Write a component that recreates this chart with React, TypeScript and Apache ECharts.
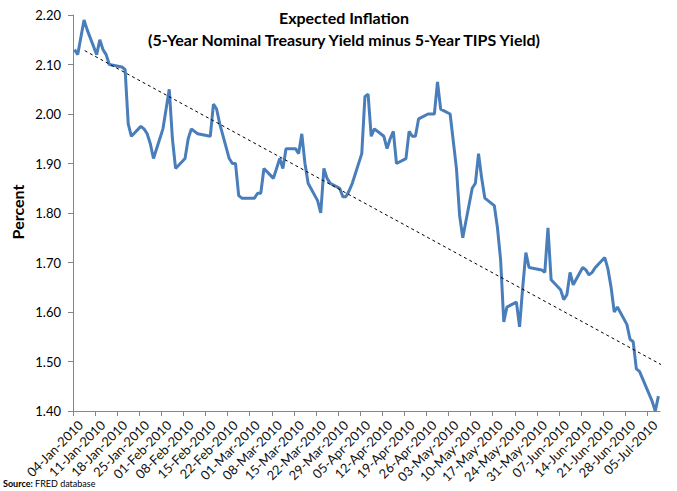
import React, { useEffect, useRef } from "react";
import * as echarts from "echarts";

const DATES = [
  "2010-01-04", "2010-01-05", "2010-01-06", "2010-01-07", "2010-01-08",
  "2010-01-11", "2010-01-12", "2010-01-13", "2010-01-14", "2010-01-15",
  "2010-01-19", "2010-01-20", "2010-01-21", "2010-01-22",
  "2010-01-25", "2010-01-26", "2010-01-27", "2010-01-28", "2010-01-29",
  "2010-02-01", "2010-02-02", "2010-02-03", "2010-02-04", "2010-02-05",
  "2010-02-08", "2010-02-09", "2010-02-10", "2010-02-11", "2010-02-12",
  "2010-02-16", "2010-02-17", "2010-02-18", "2010-02-19",
  "2010-02-22", "2010-02-23", "2010-02-24", "2010-02-25", "2010-02-26",
  "2010-03-01", "2010-03-02", "2010-03-03", "2010-03-04", "2010-03-05",
  "2010-03-08", "2010-03-09", "2010-03-10", "2010-03-11", "2010-03-12",
  "2010-03-15", "2010-03-16", "2010-03-17", "2010-03-18", "2010-03-19",
  "2010-03-22", "2010-03-23", "2010-03-24", "2010-03-25", "2010-03-26",
  "2010-03-29", "2010-03-30", "2010-03-31", "2010-04-01", "2010-04-02",
  "2010-04-05", "2010-04-06", "2010-04-07", "2010-04-08", "2010-04-09",
  "2010-04-12", "2010-04-13", "2010-04-14", "2010-04-15", "2010-04-16",
  "2010-04-19", "2010-04-20", "2010-04-21", "2010-04-22", "2010-04-23",
  "2010-04-26", "2010-04-27", "2010-04-28", "2010-04-29", "2010-04-30",
  "2010-05-03", "2010-05-04", "2010-05-05", "2010-05-06", "2010-05-07",
  "2010-05-10", "2010-05-11", "2010-05-12", "2010-05-13", "2010-05-14",
  "2010-05-17", "2010-05-18", "2010-05-19", "2010-05-20", "2010-05-21",
  "2010-05-24", "2010-05-25", "2010-05-26", "2010-05-27", "2010-05-28",
  "2010-06-01", "2010-06-02", "2010-06-03", "2010-06-04",
  "2010-06-07", "2010-06-08", "2010-06-09", "2010-06-10", "2010-06-11",
  "2010-06-14", "2010-06-15", "2010-06-16", "2010-06-17", "2010-06-18",
  "2010-06-21", "2010-06-22", "2010-06-23", "2010-06-24", "2010-06-25",
  "2010-06-28", "2010-06-29", "2010-06-30", "2010-07-01", "2010-07-02",
  "2010-07-06", "2010-07-07", "2010-07-08",
];

const VALUES = [
  2.13, 2.12, 2.155, 2.19, 2.17,
  2.12, 2.15, 2.13, 2.12, 2.10,
  2.095, 2.09, 1.98, 1.955,
  1.975, 1.97, 1.96, 1.94, 1.91,
  1.97, 2.01, 2.05, 1.95, 1.89,
  1.91, 1.95, 1.97, 1.965, 1.96,
  1.955, 2.02, 2.01, 1.98,
  1.91, 1.90, 1.90, 1.835, 1.83,
  1.83, 1.83, 1.84, 1.84, 1.89,
  1.87, 1.89, 1.91, 1.89, 1.93,
  1.93, 1.92, 1.96, 1.90, 1.86,
  1.825, 1.80, 1.89, 1.87, 1.86,
  1.85, 1.833, 1.833, 1.845, 1.86,
  1.92, 2.035, 2.04, 1.955, 1.97,
  1.955, 1.93, 1.95, 1.965, 1.90,
  1.91, 1.965, 1.955, 1.955, 1.99,
  2.00, 2.00, 2.00, 2.065, 2.01,
  2.00, 1.945, 1.89, 1.795, 1.75,
  1.85, 1.86, 1.92, 1.87, 1.83,
  1.815, 1.77, 1.705, 1.58, 1.61,
  1.62, 1.57, 1.65, 1.72, 1.69,
  1.685, 1.68, 1.77, 1.665,
  1.645, 1.625, 1.635, 1.68, 1.655,
  1.69, 1.685, 1.675, 1.68, 1.69,
  1.71, 1.687, 1.65, 1.60, 1.61,
  1.575, 1.545, 1.54, 1.485, 1.48,
  1.42, 1.40, 1.43,
];

const TICK_LABELS = [
  "04-Jan-2010", "11-Jan-2010", "18-Jan-2010", "25-Jan-2010",
  "01-Feb-2010", "08-Feb-2010", "15-Feb-2010", "22-Feb-2010",
  "01-Mar-2010", "08-Mar-2010", "15-Mar-2010", "22-Mar-2010", "29-Mar-2010",
  "05-Apr-2010", "12-Apr-2010", "19-Apr-2010", "26-Apr-2010",
  "03-May-2010", "10-May-2010", "17-May-2010", "24-May-2010", "31-May-2010",
  "07-Jun-2010", "14-Jun-2010", "21-Jun-2010", "28-Jun-2010",
  "05-Jul-2010",
];

// dashed linear trend line: day offsets from 04-Jan-2010 and values at its two ends
const TREND_DAYS = [3.7, 188.0];
const TREND_VALUES = [2.128, 1.488];

const TITLE = "Expected Inflation";
const SUBTITLE = "(5-Year Nominal Treasury Yield minus 5-Year TIPS Yield)";
const Y_NAME = "Percent";

const FONT = "Lato, 'Open Sans', sans-serif";

function dayOffset(iso: string): number {
  const [y, m, d] = iso.split("-").map(Number);
  return (Date.UTC(y, m - 1, d) - Date.UTC(2010, 0, 4)) / 86400000;
}

export default function App() {
  const ref = useRef<HTMLDivElement>(null);
  useEffect(() => {
    if (!ref.current) return;
    const chart = echarts.init(ref.current, undefined, { renderer: "svg" });
    const lineData = DATES.map((d, i) => [dayOffset(d) + 0.5, VALUES[i]]);
    const trendData = TREND_DAYS.map((d, i) => [d, TREND_VALUES[i]]);
    const tickVals = TICK_LABELS.map((_, i) => i * 7);
    const lastDay = dayOffset(DATES[DATES.length - 1]) + 1;
    const baseGraphics: any[] = [
      {
        type: "text",
        x: 344,
        y: 17,
        style: {
          text: TITLE,
          font: `bold 16px ${FONT}`,
          fill: "#000",
          textAlign: "center",
          textVerticalAlign: "middle",
          align: "center",
          verticalAlign: "middle",
        },
      },
      {
        type: "text",
        x: 344,
        y: 39,
        style: {
          text: SUBTITLE,
          font: `bold 16px ${FONT}`,
          fill: "#000",
          textAlign: "center",
          textVerticalAlign: "middle",
          align: "center",
          verticalAlign: "middle",
        },
      },
      {
        type: "text",
        x: 17,
        y: 212,
        rotation: Math.PI / 2,
        style: {
          text: Y_NAME,
          font: `bold 16px ${FONT}`,
          fill: "#000",
          textAlign: "center",
          textVerticalAlign: "middle",
          align: "center",
          verticalAlign: "middle",
        },
      },
      {
        type: "text",
        x: 3,
        y: 483,
        style: {
          text: "{b|Source:} FRED database",
          rich: {
            b: { font: `bold 9px ${FONT}`, fill: "#000" },
          },
          font: `9px ${FONT}`,
          fill: "#000",
          textVerticalAlign: "middle",
          verticalAlign: "middle",
        },
      },
    ];
    chart.setOption({
      animation: false,
      backgroundColor: "#ffffff",
      grid: { left: 73, right: 17, top: 15, bottom: 80 },
      xAxis: {
        type: "value",
        min: 0,
        max: lastDay,
        splitLine: { show: false },
        axisLine: { show: true, lineStyle: { color: "#868686", width: 1 } },
        axisTick: { show: true, customValues: tickVals, length: 5, lineStyle: { color: "#868686" } },
        axisLabel: { show: false },
      },
      yAxis: {
        type: "value",
        min: 1.4,
        max: 2.2,
        interval: 0.1,
        splitLine: { show: false },
        axisLine: { show: true, lineStyle: { color: "#868686", width: 1 } },
        axisTick: { show: true, length: 5, lineStyle: { color: "#868686" } },
        axisLabel: {
          formatter: (v: number) => v.toFixed(2),
          fontSize: 13,
          fontFamily: FONT,
          color: "#000",
          margin: 12,
        },
      },
      graphic: { elements: baseGraphics },
      series: [
        {
          type: "line",
          data: lineData,
          symbol: "none",
          lineStyle: { color: "#4A7EBB", width: 3 },
          z: 2,
        },
        {
          type: "line",
          data: trendData,
          symbol: "none",
          clip: false,
          lineStyle: { color: "#000", width: 1, type: [3, 3] },
          z: 3,
        },
      ],
    });
    // rotated date labels, placed at the x axis' own tick positions
    const axisY = chart.convertToPixel({ yAxisIndex: 0 }, 1.4) as number;
    const labelEls = TICK_LABELS.map((t, i) => ({
      type: "text",
      x: (chart.convertToPixel({ xAxisIndex: 0 }, tickVals[i]) as number) + 3,
      y: axisY + 7,
      rotation: Math.PI / 4,
      style: {
        text: t,
        font: `13px ${FONT}`,
        fill: "#111",
        textAlign: "right",
        textVerticalAlign: "top",
        align: "right",
        verticalAlign: "top",
      },
    }));
    chart.setOption({ graphic: { elements: [...baseGraphics, ...labelEls] } });
    return () => chart.dispose();
  }, []);
  return (
    <div
      ref={ref}
      style={{ position: "absolute", left: 0, top: 0, width: 677, height: 491 }}
    />
  );
}
